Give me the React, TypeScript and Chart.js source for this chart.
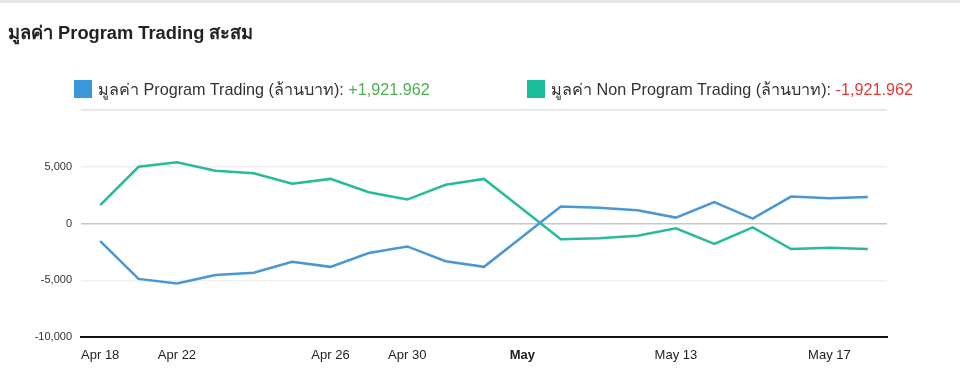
import React, { useEffect, useRef } from "react";
import { Chart, registerables } from "chart.js";

Chart.register(...registerables);

const dates = [
  "2024-04-18", "2024-04-19", "2024-04-22", "2024-04-23", "2024-04-24",
  "2024-04-25", "2024-04-26", "2024-04-29", "2024-04-30", "2024-05-02",
  "2024-05-03", "2024-05-07", "2024-05-08", "2024-05-09", "2024-05-10",
  "2024-05-13", "2024-05-14", "2024-05-15", "2024-05-16", "2024-05-17",
  "2024-05-20",
];

const tickLabels = [
  "Apr 18", "", "Apr 22", "", "", "", "Apr 26", "", "Apr 30", "", "",
  "May", "", "", "", "May 13", "", "", "", "May 17", "",
];

const programValues = [
  -1560, -4880, -5290, -4540, -4340, -3380, -3820, -2600, -2020, -3320,
  -3820, -1160, 1500, 1390, 1160, 520, 1880, 430, 2370, 2230, 2340,
];

const nonProgramValues = [
  1620, 5000, 5400, 4650, 4420, 3500, 3930, 2750, 2110, 3410,
  3930, 1270, -1390, -1300, -1070, -430, -1790, -350, -2250, -2140, -2250,
];

const yTicks = [-10000, -5000, 0, 5000, 10000];

const title = "มูลค่า Program Trading สะสม";
const programLabel = "มูลค่า Program Trading (ล้านบาท): ";
const programTotal = "+1,921.962";
const nonProgramLabel = "มูลค่า Non Program Trading (ล้านบาท): ";
const nonProgramTotal = "-1,921.962";

const BLUE = "#4a97d4";
const GREEN = "#27bb9b";
const FONT = "Arial, 'Liberation Sans', 'Noto Sans', sans-serif";

export default function App() {
  const canvasRef = useRef<HTMLCanvasElement | null>(null);

  useEffect(() => {
    if (!canvasRef.current) return;
    const chart = new Chart(canvasRef.current, {
      type: "line",
      data: {
        labels: dates,
        datasets: [
          {
            label: "Program",
            data: programValues,
            borderColor: BLUE,
            backgroundColor: BLUE,
            borderWidth: 2.5,
            pointRadius: 0,
            tension: 0,
          },
          {
            label: "Non Program",
            data: nonProgramValues,
            borderColor: GREEN,
            backgroundColor: GREEN,
            borderWidth: 2.5,
            pointRadius: 0,
            tension: 0,
          },
        ],
      },
      options: {
        animation: false,
        responsive: false,
        maintainAspectRatio: false,
        layout: { padding: { top: 110, right: 73, left: 0, bottom: 0 } },
        plugins: {
          legend: { display: false },
          tooltip: { enabled: false },
          title: { display: false },
        },
        scales: {
          x: {
            type: "category",
            offset: true,
            afterFit: (axis: any) => {
              axis.height = 54;
            },
            grid: { display: false, drawTicks: false },
            border: { display: true, color: "#111", width: 2 },
            ticks: {
              autoSkip: false,
              maxRotation: 0,
              padding: 11,
              color: "#222",
              font: (ctx: any) => {
                const lbl = tickLabels[ctx.index];
                return {
                  family: FONT,
                  size: 13,
                  weight: lbl === "May" ? "bold" : "normal",
                };
              },
              callback: (_v: any, i: number) => tickLabels[i],
            },
          },
          y: {
            min: yTicks[0],
            max: yTicks[yTicks.length - 1],
            afterFit: (axis: any) => {
              axis.width = 81;
            },
            afterBuildTicks: (axis: any) => {
              axis.ticks = yTicks.map((v) => ({ value: v }));
            },
            border: { display: false },
            grid: {
              drawTicks: false,
              lineWidth: (ctx: any) => (ctx.tick && ctx.tick.value === -10000 ? 0 : 1.5),
              color: (ctx: any) => {
                const v = ctx.tick ? ctx.tick.value : null;
                if (v === 0) return "#c8c8c8";
                if (v === 10000) return "#e2e2e2";
                return "#efefef";
              },
            },
            ticks: {
              padding: 9,
              color: "#333",
              font: { family: FONT, size: 11 },
              callback: (v: any) =>
                v === 10000 ? "" : Number(v).toLocaleString("en-US"),
            },
          },
        },
      },
    });
    return () => chart.destroy();
  }, []);

  const legendText: React.CSSProperties = {
    fontFamily: FONT,
    fontSize: 16.2,
    color: "#333",
    whiteSpace: "nowrap",
  };

  return (
    <div
      style={{
        position: "fixed",
        left: 0,
        top: 0,
        width: 960,
        height: 391,
        background: "#fff",
        overflow: "hidden",
      }}
    >
      <div
        style={{
          position: "absolute",
          left: 0,
          top: 0,
          width: 960,
          height: 3,
          background: "#e6e6e6",
        }}
      />
      <canvas
        ref={canvasRef}
        width={960}
        height={391}
        style={{ position: "absolute", left: 0, top: 0, width: 960, height: 391 }}
      />
      <div
        style={{
          position: "absolute",
          left: 8,
          top: 18,
          fontFamily: FONT,
          fontSize: 18.3,
          fontWeight: "bold",
          color: "#222",
          whiteSpace: "nowrap",
        }}
      >
        {title}
      </div>
      <div style={{ position: "absolute", left: 74, top: 76, display: "flex", alignItems: "center" }}>
        <span style={{ display: "inline-block", width: 18, height: 18, background: "#3a97dc", marginRight: 6 }} />
        <span style={legendText}>
          {programLabel}
          <span style={{ color: "#4caf50" }}>{programTotal}</span>
        </span>
      </div>
      <div style={{ position: "absolute", left: 527, top: 76, display: "flex", alignItems: "center" }}>
        <span style={{ display: "inline-block", width: 18, height: 18, background: "#1abc9c", marginRight: 6 }} />
        <span style={legendText}>
          {nonProgramLabel}
          <span style={{ color: "#e53935" }}>{nonProgramTotal}</span>
        </span>
      </div>
    </div>
  );
}
